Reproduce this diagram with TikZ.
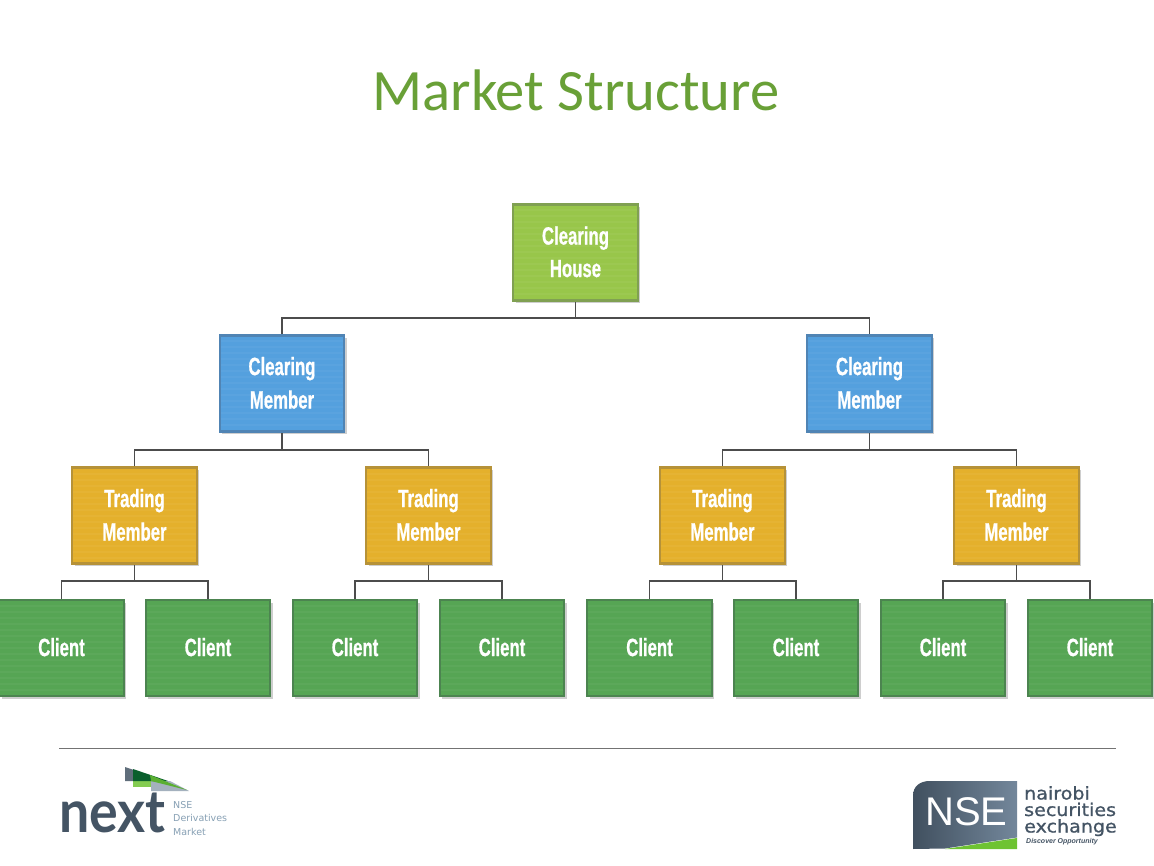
\documentclass[tikz,border=0pt]{standalone}
\usepackage{fontspec}
\setmainfont{Liberation Sans}
\newfontfamily\boxfont{Liberation Sans}[FakeStretch=0.67,FakeBold=0.7]
\newfontfamily\titlefont{Carlito}
\newfontfamily\logofont{Lato}[FakeStretch=0.91]
\newfontfamily\smallfont{DejaVu Sans}
\newfontfamily\namefont{DejaVu Sans}[FakeBold=0.9,FakeStretch=1.09]
\usetikzlibrary{shadows}
\definecolor{titlegreen}{RGB}{105,160,55}
\definecolor{limefill}{RGB}{152,198,74}
\definecolor{limeedge}{RGB}{128,160,82}
\definecolor{bluefill}{RGB}{84,160,222}
\definecolor{blueedge}{RGB}{80,132,180}
\definecolor{goldfill}{RGB}{228,176,44}
\definecolor{goldedge}{RGB}{182,146,56}
\definecolor{clientfill}{RGB}{86,165,84}
\definecolor{clientedge}{RGB}{76,132,80}
\definecolor{slate}{RGB}{68,84,100}
\definecolor{slatelight}{RGB}{115,135,155}
\definecolor{logolabel}{RGB}{135,160,180}
\definecolor{brightgreen}{RGB}{110,195,50}
\definecolor{deepgreen}{RGB}{10,95,45}
\newcommand{\twolines}[2]{\raisebox{1.5pt}{\shortstack[c]{#1\\[7pt]#2}}}
\tikzset{
  orgbox/.style={draw=#1, line width=2.4pt, minimum width=124.5pt, minimum height=96pt,
    inner sep=0pt, align=center, text=white, outer sep=1.5pt,
    font=\boxfont\bfseries\fontsize{25}{32}\selectfont,
    drop shadow={shadow xshift=2.5pt, shadow yshift=-2.5pt, fill=black!35, opacity=.55},
    path picture={
      \foreach \k in {0,6,...,96}{
        \draw[white,opacity=.04,line width=2pt]
          ([yshift=-\k pt]path picture bounding box.north west) --
          ([yshift=-\k pt]path picture bounding box.north east);
      }
    }},
  house/.style={orgbox=limeedge, fill=limefill},
  cmbox/.style={orgbox=blueedge, fill=bluefill},
  tmbox/.style={orgbox=goldedge, fill=goldfill},
  clbox/.style={orgbox=clientedge, fill=clientfill},
  conn/.style={draw=black!70, line width=1.6pt},
  rulel/.style={draw=black!55, line width=0.9pt},
  plain/.style={inner sep=0pt, anchor=west}
}
\begin{document}
\begin{tikzpicture}[x=1pt,y=-1pt]
\useasboundingbox (0,0) rectangle (1154,866);
\fill[white] (0,0) rectangle (1154,866);
\node[inner sep=0pt,text=titlegreen,font=\titlefont\fontsize{58.6}{60}\selectfont] (title) at (576,90) {Market Structure};

\node[house] (ch) at (575.5,252.5) {\twolines{Clearing}{House}};
\node[cmbox] (cm1) at (282,383.5) {\twolines{Clearing}{Member}};
\node[cmbox] (cm2) at (869.5,383.5) {\twolines{Clearing}{Member}};
\node[tmbox] (tm1) at (134.5,515.5) {\twolines{Trading}{Member}};
\node[tmbox] (tm2) at (428.5,515.5) {\twolines{Trading}{Member}};
\node[tmbox] (tm3) at (722.5,515.5) {\twolines{Trading}{Member}};
\node[tmbox] (tm4) at (1016.5,515.5) {\twolines{Trading}{Member}};
\node[clbox] (c1) at (61.5,648) {\raisebox{2pt}{Client}};
\node[clbox] (c2) at (208,648) {\raisebox{2pt}{Client}};
\node[clbox] (c3) at (355,648) {\raisebox{2pt}{Client}};
\node[clbox] (c4) at (502,648) {\raisebox{2pt}{Client}};
\node[clbox] (c5) at (649.5,648) {\raisebox{2pt}{Client}};
\node[clbox] (c6) at (796,648) {\raisebox{2pt}{Client}};
\node[clbox] (c7) at (943,648) {\raisebox{2pt}{Client}};
\node[clbox] (c8) at (1090,648) {\raisebox{2pt}{Client}};

\coordinate (b0) at (0,318);
\coordinate (b1) at (0,450);
\coordinate (b2) at (0,581);
\draw[conn] (ch.south) -- (ch.south |- b0);
\draw[conn] (cm1.north) |- (cm2.north |- b0) -- (cm2.north);
\foreach \p/\a/\b in {cm1/tm1/tm2,cm2/tm3/tm4}{
  \draw[conn] (\p.south) -- (\p.south |- b1);
  \draw[conn] (\a.north) |- (\b.north |- b1) -- (\b.north);
}
\foreach \p/\a/\b in {tm1/c1/c2,tm2/c3/c4,tm3/c5/c6,tm4/c7/c8}{
  \draw[conn] (\p.south) -- (\p.south |- b2);
  \draw[conn] (\a.north) |- (\b.north |- b2) -- (\b.north);
}

% footer rule
\draw[rulel] (59,748) -- (1116,748);

% next logo
\fill[slate!85] (125,767) -- (134,770) -- (134,781) -- (125,781) -- cycle;
\fill[slatelight!65] (151,781) -- (170,781) -- (189,791) -- (151,791) -- cycle;
\fill[brightgreen!85] (133,781) -- (151,781) -- (151,787) -- (133,787) -- cycle;
\fill[deepgreen] (133,769) -- (168,781) -- (133,781) -- cycle;
\fill[brightgreen!80!deepgreen] (150,775) -- (187,790) -- (151,781) -- cycle;
\node[plain,text=slate,font=\logofont\bfseries\fontsize{59}{59}\selectfont] (nextword) at (59,813) {next};
\node[inner sep=0pt,anchor=north west,align=left,text=logolabel,font=\smallfont\fontsize{9.5}{13.5}\selectfont] (nextlabel) at (173,801) {NSE\\Derivatives\\Market};

% NSE logo
\shade[left color=slate!95!black, right color=slatelight] (913,849) -- (913,796) .. controls (913,786) and (920,781) .. (930,781) -- (1017,781) -- (1017,837.5) -- (945,848.5) -- cycle;
\fill[brightgreen] (945,849) -- (1017,838) -- (1017,849) -- cycle;
\node[inner sep=0pt,text=white,font=\fontsize{40}{40}\selectfont] (nselogo) at (966.5,812) {NSE};
\node[inner sep=0pt,anchor=north west,align=left,text=slate,font=\namefont\fontsize{17.5}{16.5}\selectfont] (nsename) at (1024,786) {nairobi\\securities\\exchange};
\node[plain,text=slate,font=\bfseries\itshape\fontsize{7}{8}\selectfont] (tagline) at (1026,842) {Discover Opportunity};
\end{tikzpicture}
\end{document}
